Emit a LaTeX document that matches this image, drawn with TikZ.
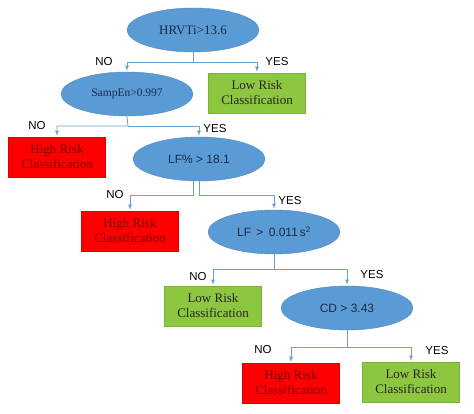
\documentclass[tikz,border=0pt]{standalone}
\usepackage{fontspec}
\setmainfont{Liberation Serif}
\newfontfamily\arialf{Liberation Sans}
\usetikzlibrary{arrows}
\usetikzlibrary{calc,shapes}

\definecolor{ellblue}{HTML}{5B9BD5}
\definecolor{ellbord}{HTML}{4F88C0}
\definecolor{ellink}{HTML}{1C2B48}
\definecolor{lowgreen}{HTML}{8DC63F}
\definecolor{greenbord}{HTML}{7AB33A}
\definecolor{highred}{HTML}{FF0000}
\definecolor{redbord}{HTML}{E00000}
\definecolor{redink}{HTML}{7A0000}
\definecolor{linkblue}{HTML}{6A9FD6}

\begin{document}
\begin{tikzpicture}[x=1pt,y=-1pt,
    test/.style={ellipse,draw=ellbord,fill=ellblue,minimum width=132pt,minimum height=44pt,inner sep=0pt,text=ellink,font=\fontsize{13}{15}\selectfont},
    sanstest/.style={test,font=\arialf\fontsize{12}{14}\selectfont},
    lowrisk/.style={rectangle,draw=greenbord,fill=lowgreen,minimum width=97pt,minimum height=40pt,inner sep=0pt,align=center,text=black!85,font=\fontsize{13}{15}\selectfont},
    highrisk/.style={lowrisk,draw=redbord,fill=highred,text=redink},
    branch/.style={->,>=latex,linkblue,line width=0.8pt,shorten >=1pt},
    answer/.style={inner sep=0pt,font=\arialf\fontsize{11.5}{13}\selectfont}]
				\useasboundingbox (0,0) rectangle (474,414);
				% Tests
				\node [test] (hrv) at (193,30) {HRVTi>13.6};
				\node [test,font=\fontsize{11.5}{13}\selectfont] (samp) at (127,94) {SampEn>0.997};
				\node [sanstest] (lfp) at (199,159) {LF\% > 18.1};
				\node [sanstest] (lf) at (274,232) {LF \,>\, 0.011\,s\textsuperscript{2}};
				\node [sanstest] (cd) at (347,308) {CD > 3.43};
				% Classes
				\node [lowrisk] (low1) at (257,93) {Low Risk\\Classification};
				\node [highrisk] (high1) at (57,157) {High Risk\\Classification};
				\node [highrisk] (high2) at (130,231) {High Risk\\Classification};
				\node [lowrisk] (low2) at (213,306) {Low Risk\\Classification};
				\node [highrisk] (high3) at (291,383) {High Risk\\Classification};
				\node [lowrisk] (low3) at (411,382) {Low Risk\\Classification};
				% Branches
				\coordinate (b1) at (193,62);
				\coordinate (b2) at (128,126);
				\coordinate (b3a) at (193,195);
				\coordinate (b3b) at (199,195);
				\coordinate (b4) at (274,269);
				\coordinate (b5) at (347,347);
				\draw [branch] (hrv.south) -- (b1) -| (samp.north);
				\draw [branch] (b1) -| (low1.north);
				\draw [branch] (samp.south) -- (b2) -| (high1.north);
				\draw [branch] (b2) -| (lfp.north);
				\draw [branch] ([xshift=-6pt]lfp.south) -- (b3a) -| (high2.north);
				\draw [branch] (lfp.south) -- (b3b) -| (lf.north);
				\draw [branch] (lf.south) -- (b4) -| (low2.north);
				\draw [branch] (b4) -| (cd.north);
				\draw [branch] (cd.south) -- (b5) -| (high3.north);
				\draw [branch] (b5) -| (low3.north);
				% NO / YES
				\node [answer] (no1) at (104,62) {NO};
				\node [answer] (yes1) at (277,62) {YES};
				\node [answer] (no2) at (37,126) {NO};
				\node [answer] (yes2) at (215,129) {YES};
				\node [answer] (no3) at (115,195) {NO};
				\node [answer] (yes3) at (290,201) {YES};
				\node [answer] (no4) at (198,277) {NO};
				\node [answer] (yes4) at (372,275) {YES};
				\node [answer] (no5) at (263,350) {NO};
				\node [answer] (yes5) at (437,351) {YES};
\end{tikzpicture}
\end{document}
